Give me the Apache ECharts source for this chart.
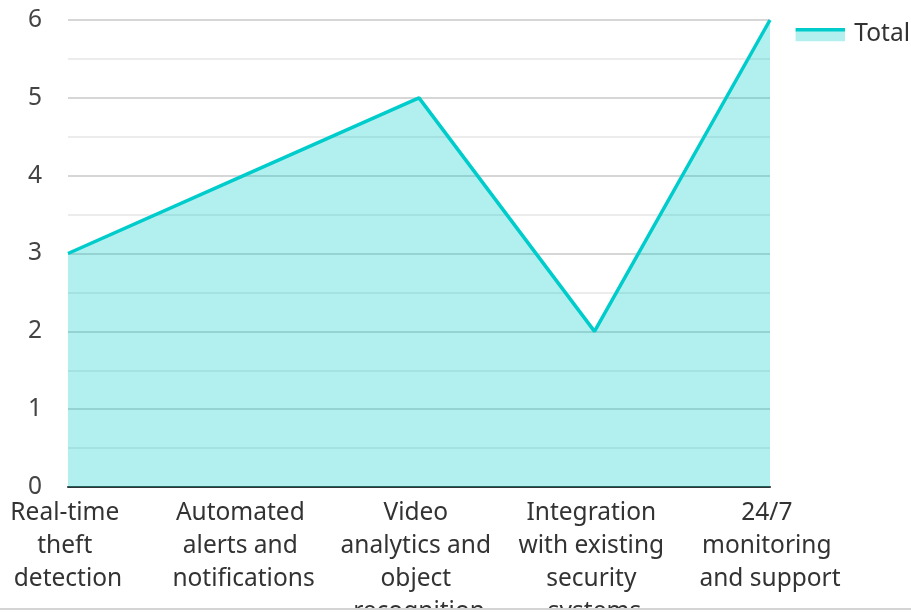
<!DOCTYPE html>
<html>
<head>
<meta charset="utf-8">
<script src="https://cdn.jsdelivr.net/npm/echarts@6/dist/echarts.min.js"></script>
<style>
  html, body { margin: 0; padding: 0; background: #fff; }
  #chart { width: 911px; height: 608px; border-bottom: 2px solid #d4d4d4; }
</style>
</head>
<body>
<div id="chart"></div>
<script>
const categories = [
  'Real-time theft detection',
  'Automated alerts and notifications',
  'Video analytics and object recognition',
  'Integration with existing security systems',
  '24/7 monitoring and support'
]
const totalValues = [3, 4, 5, 2, 6]
const seriesName = 'Total'

// legend swatch: line on top of a light area block
const legendIcon = 'image://data:image/svg+xml;utf8,' + encodeURIComponent(
  '<svg xmlns="http://www.w3.org/2000/svg" width="50" height="14">' +
  '<rect x="0" y="3" width="50" height="11" fill="#b2f0f0"/>' +
  '<rect x="0" y="0" width="50" height="4" fill="#00cccc"/></svg>'
)

const chart = echarts.init(document.getElementById('chart'))
chart.setOption({
  textStyle: { fontFamily: 'Noto Sans' },
  legend: {
    data: [{ name: seriesName, icon: legendIcon }],
    right: 1,
    top: 22,
    padding: 0,
    itemWidth: 50,
    itemHeight: 14,
    itemGap: 10,
    textStyle: { fontSize: 24.5, color: '#333', fontFamily: 'Noto Sans', padding: [0, 0, 0, 4] }
  },
  grid: {
    left: 68,
    right: 141,
    top: 20,
    bottom: 121,
    outerBoundsMode: 'none',
    containLabel: false
  },
  xAxis: {
    type: 'category',
    data: categories,
    boundaryGap: false,
    axisLine: { lineStyle: { color: '#333', width: 2 } },
    axisTick: { show: false },
    axisLabel: {
      interval: 0,
      fontSize: 24.5,
      color: '#333',
      lineHeight: 33,
      margin: 10,
      width: 160,
      overflow: 'break'
    }
  },
  yAxis: {
    type: 'value',
    min: 0,
    max: 6,
    interval: 1,
    axisLine: { show: false },
    axisTick: { show: false },
    axisLabel: { fontSize: 24.5, color: '#444', margin: 26 },
    splitLine: { lineStyle: { color: '#c8c8c8', width: 1.5 } },
    minorTick: { show: false, splitNumber: 2 },
    minorSplitLine: { show: true, lineStyle: { color: '#e6e6e6', width: 1.5 } }
  },
  series: [{
    name: seriesName,
    type: 'line',
    data: totalValues,
    symbol: 'none',
    lineStyle: { color: '#00cccc', width: 3.5 },
    itemStyle: { color: '#00cccc' },
    areaStyle: { color: '#00cccc', opacity: 0.3 }
  }]
})
</script>
</body>
</html>
